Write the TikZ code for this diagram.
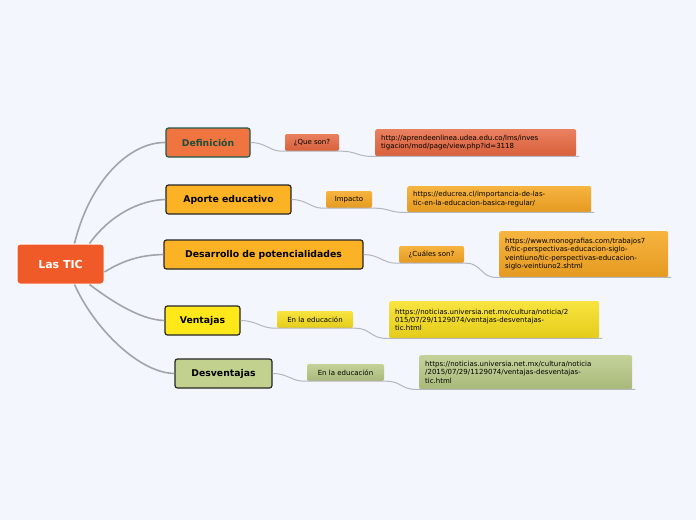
\documentclass[tikz,border=0pt]{standalone}
\usepackage{fontspec}
\setmainfont{DejaVu Sans}
\usetikzlibrary{positioning}
\definecolor{bg}{HTML}{F3F6FD}
\definecolor{ln}{HTML}{B4B6BE}
\definecolor{rootc}{HTML}{F05A28}
\definecolor{defc}{HTML}{F07440}
\definecolor{defb}{HTML}{1F5B4A}
\definecolor{deft}{HTML}{1F4F3A}
\definecolor{orc}{HTML}{FBB225}
\definecolor{yec}{HTML}{FFE81A}
\definecolor{grc}{HTML}{C2D18E}
\definecolor{rtop}{HTML}{E98060}
\definecolor{rbot}{HTML}{D8603A}
\definecolor{otop}{HTML}{F6B440}
\definecolor{obot}{HTML}{E59A20}
\definecolor{ytop}{HTML}{F8E440}
\definecolor{ybot}{HTML}{E4CC18}
\definecolor{gtop}{HTML}{C4D29A}
\definecolor{gbot}{HTML}{A8B97A}
\tikzset{
 main/.style={draw=black!85,line width=1.2pt,rounded corners=2.5pt,font=\fontsize{9.3}{11}\selectfont\bfseries,inner sep=0pt},
 lab/.style={rounded corners=2pt,font=\fontsize{7}{8}\selectfont,inner sep=0pt},
 url/.style={rounded corners=2pt,font=\fontsize{7}{8.3}\selectfont,align=left,inner sep=0pt,anchor=north west,text width=#1},
 con/.style={draw=ln,line width=1pt},
 rcon/.style={draw=ln!90!black,line width=1.6pt}
}
\begin{document}
\begin{tikzpicture}[x=1pt,y=-1pt]
\fill[bg] (0,0) rectangle (696,520);
\useasboundingbox (0,0) rectangle (696,520);
% root
\node[rounded corners=3pt,fill=rootc,draw=white,line width=1pt,minimum width=87,minimum height=40,text=white,font=\fontsize{11}{13}\selectfont\bfseries] (root) at (60.5,264) {Las TIC};
% main nodes
\node[main,fill=defc,draw=defb,text=deft,minimum width=84,minimum height=29] (m1) at (208,142.5) {Definición};
\node[main,fill=orc,minimum width=125,minimum height=29] (m2) at (228.5,199.5) {Aporte educativo};
\node[main,fill=orc,minimum width=199,minimum height=29] (m3) at (263.5,254.5) {Desarrollo de potencialidades};
\node[main,fill=yec,minimum width=75,minimum height=29] (m4) at (202.5,320.5) {Ventajas};
\node[main,fill=grc,minimum width=97,minimum height=29] (m5) at (223.5,373.5) {Desventajas};
% labels
\node[lab,top color=rtop,bottom color=rbot,minimum width=54,minimum height=17] (l1) at (312,142.5) {¿Que son?};
\node[lab,top color=otop,bottom color=obot,minimum width=46,minimum height=17] (l2) at (349,199.5) {Impacto};
\node[lab,top color=otop,bottom color=obot,minimum width=65,minimum height=17] (l3) at (431.5,254.5) {¿Cuáles son?};
\node[lab,top color=ytop,bottom color=ybot,minimum width=76,minimum height=17] (l4) at (315,319.5) {En la educación};
\node[lab,top color=gtop,bottom color=gbot,minimum width=77,minimum height=17] (l5) at (345.5,372.5) {En la educación};
% urls
\node[url=189,minimum height=27,top color=rtop,bottom color=rbot,inner xsep=6,inner ysep=3] (u1) at (375,129) {http://aprendeenlinea.udea.edu.co/lms/inves\\tigacion/mod/page/view.php?id=3118};
\node[url=172,minimum height=26,top color=otop,bottom color=obot,inner xsep=6,inner ysep=3] (u2) at (407,186) {https://educrea.cl/importancia-de-las-\\tic-en-la-educacion-basica-regular/};
\node[url=157,minimum height=46,top color=otop,bottom color=obot,inner xsep=6,inner ysep=3] (u3) at (499,231) {https://www.monografias.com/trabajos7\\6/tic-perspectivas-educacion-siglo-\\veintiuno/tic-perspectivas-educacion-\\siglo-veintiuno2.shtml};
\node[url=198,minimum height=37,top color=ytop,bottom color=ybot,inner xsep=6,inner ysep=3] (u4) at (389,301) {https://noticias.universia.net.mx/cultura/noticia/2\\015/07/29/1129074/ventajas-desventajas-\\tic.html};
\node[url=201,minimum height=34,top color=gtop,bottom color=gbot,inner xsep=6,inner ysep=3] (u5) at (419,355) {https://noticias.universia.net.mx/cultura/noticia\\/2015/07/29/1129074/ventajas-desventajas-\\tic.html};
% root connectors
\draw[rcon] ([xshift=-30]root.north east) .. controls (90,180) and (130,142) .. (m1.west);
\draw[rcon] ([xshift=-15]root.north east) .. controls (110,215) and (140,200) .. (m2.west);
\draw[rcon] ([yshift=-8]root.east) .. controls (130,256) and (150,255) .. (m3.west);
\draw[rcon] ([xshift=-15]root.south east) .. controls (110,300) and (140,320) .. (m4.west);
\draw[rcon] ([xshift=-30]root.south east) .. controls (95,330) and (140,373) .. (m5.west);
% sub connectors
\foreach \m/\l/\u in {m1/l1/u1,m2/l2/u2,m3/l3/u3,m4/l4/u4,m5/l5/u5}{
 \draw[con] (\m.east) .. controls +(15,0) and +(-12,0) .. ([xshift=-3]\l.south west) -- ([xshift=2]\l.south east) .. controls +(15,0) and +(-15,0) .. ([xshift=-3]\u.south west) -- ([xshift=3]\u.south east);
}
\end{tikzpicture}
\end{document}
